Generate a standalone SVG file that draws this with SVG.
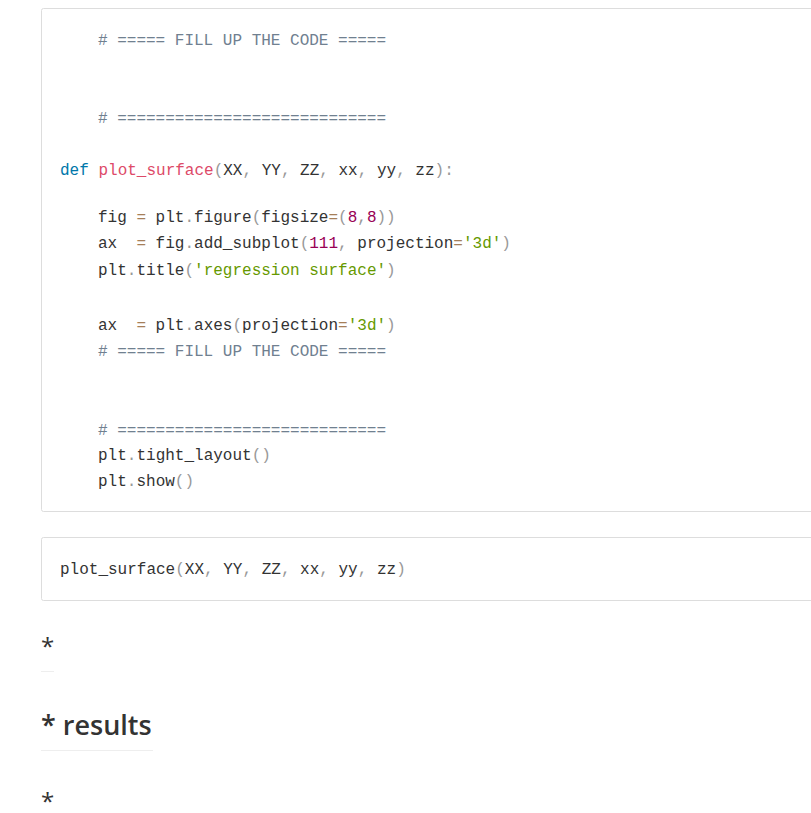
<svg xmlns="http://www.w3.org/2000/svg" width="811" height="813" viewBox="0 0 811 813">
<style>
.c{font-family:"Liberation Mono",monospace;font-size:16px;fill:#333;white-space:pre}
.cm{fill:#708090}.kw{fill:#0077aa}.fn{fill:#dd4a68}.p{fill:#999}.n{fill:#990055}.s{fill:#669900}.o{fill:#a67f59}
.box{fill:#fff;stroke:#dddddd;stroke-width:1}
.md{font-family:"Open Sans","Liberation Sans",sans-serif;fill:#333}
</style>
<rect width="811" height="813" fill="#fff"/>
<g id="cell1">
<rect class="box" x="41.5" y="8.5" width="780" height="503" rx="2"/>
<text class="c" x="98" y="45"><tspan class="cm"># ===== FILL UP THE CODE =====</tspan></text>
<text class="c" x="98" y="123"><tspan class="cm"># ============================</tspan></text>
<text class="c" x="60" y="175"><tspan class="kw">def</tspan> <tspan class="fn">plot_surface</tspan><tspan class="p">(</tspan>XX<tspan class="p">,</tspan> YY<tspan class="p">,</tspan> ZZ<tspan class="p">,</tspan> xx<tspan class="p">,</tspan> yy<tspan class="p">,</tspan> zz<tspan class="p">):</tspan></text>
<text class="c" x="98" y="222">fig <tspan class="o">=</tspan> plt<tspan class="p">.</tspan>figure<tspan class="p">(</tspan>figsize<tspan class="o">=</tspan><tspan class="p">(</tspan><tspan class="n">8</tspan><tspan class="p">,</tspan><tspan class="n">8</tspan><tspan class="p">))</tspan></text>
<text class="c" x="98" y="248" xml:space="preserve">ax  <tspan class="o">=</tspan> fig<tspan class="p">.</tspan>add_subplot<tspan class="p">(</tspan><tspan class="n">111</tspan><tspan class="p">,</tspan> projection<tspan class="o">=</tspan><tspan class="s">'3d'</tspan><tspan class="p">)</tspan></text>
<text class="c" x="98" y="275">plt<tspan class="p">.</tspan>title<tspan class="p">(</tspan><tspan class="s">'regression surface'</tspan><tspan class="p">)</tspan></text>
<text class="c" x="98" y="330" xml:space="preserve">ax  <tspan class="o">=</tspan> plt<tspan class="p">.</tspan>axes<tspan class="p">(</tspan>projection<tspan class="o">=</tspan><tspan class="s">'3d'</tspan><tspan class="p">)</tspan></text>
<text class="c" x="98" y="356"><tspan class="cm"># ===== FILL UP THE CODE =====</tspan></text>
<text class="c" x="98" y="435"><tspan class="cm"># ============================</tspan></text>
<text class="c" x="98" y="460">plt<tspan class="p">.</tspan>tight_layout<tspan class="p">()</tspan></text>
<text class="c" x="98" y="486">plt<tspan class="p">.</tspan>show<tspan class="p">()</tspan></text>
</g>
<g id="cell2">
<rect class="box" x="41.5" y="537.5" width="780" height="63" rx="2"/>
<text class="c" x="60" y="574">plot_surface<tspan class="p">(</tspan>XX<tspan class="p">,</tspan> YY<tspan class="p">,</tspan> ZZ<tspan class="p">,</tspan> xx<tspan class="p">,</tspan> yy<tspan class="p">,</tspan> zz<tspan class="p">)</tspan></text>
</g>
<g id="markdown">
<text class="md" x="41" y="655" font-size="24">*</text>
<line x1="41" y1="671.5" x2="54" y2="671.5" stroke="#eee"/>
<text class="md" x="41" y="735" font-size="27" font-weight="600">* results</text>
<line x1="41" y1="750.5" x2="153" y2="750.5" stroke="#eee"/>
<text class="md" x="41" y="810" font-size="24">*</text>
</g>
</svg>
